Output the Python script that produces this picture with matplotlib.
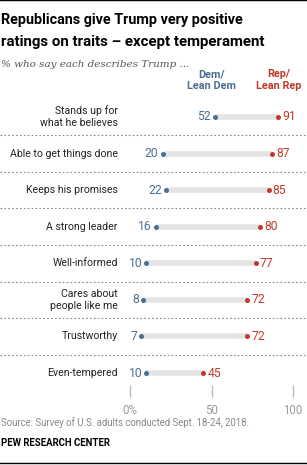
import matplotlib.pyplot as plt
import matplotlib.transforms as mtransforms

traits = ['Stands up for\nwhat he believes', 'Able to get things done', 'Keeps his promises',
          'A strong leader', 'Well-informed', 'Cares about\npeople like me', 'Trustworthy',
          'Even-tempered']
dem = [52, 20, 22, 16, 10, 8, 7, 10]
rep = [91, 87, 85, 80, 77, 72, 72, 45]
xticks = [0, 50, 100]
xticklabels = ['0%', '50', '100']

blue = '#4b6f91'
red = '#c0392b'
grey = '#e4e4e4'
W, H = 307, 465

plt.rcParams['font.family'] = ['Roboto', 'DejaVu Sans']
fig = plt.figure(figsize=(W / 100, H / 100), dpi=100)

# axes placed in pixel terms: x 0..100 -> px 130..293, rows every ~36.6px from y=117
step = (373 - 117) / 7
top = 117 - step / 2
bot = 373 + step / 2
ax = fig.add_axes([130 / W, 1 - bot / H, (293 - 130) / W, (bot - top) / H])
ax.set_xlim(0, 100)
ax.set_ylim(len(traits) - 0.5, -0.5)
for s in ax.spines.values():
    s.set_visible(False)
ax.set_yticks([])
ax.set_xticks(xticks)
ax.set_xticklabels(xticklabels, color='#9a9a9a', fontsize=8.3)
ax.tick_params(axis='x', direction='inout', length=8, width=1, color='#bbbbbb', pad=5)

for i, (d, r) in enumerate(zip(dem, rep)):
    ax.plot([d, r], [i, i], color=grey, lw=4, solid_capstyle='butt', zorder=1)
    ax.scatter([d], [i], s=13, color=blue, zorder=3, clip_on=False, linewidths=0)
    ax.scatter([r], [i], s=13, color=red, zorder=3, clip_on=False, linewidths=0)
    ax.text(d - 2.5, i, str(d), color=blue, fontsize=8.7, ha='right', va='center')
    ax.text(r + 2.5, i, str(r), color=red, fontsize=8.7, ha='left', va='center')
    ax.text(-7.5, i, traits[i], fontsize=7.6, ha='right', va='center', color='#222222',
            linespacing=1.25)

# dotted row separators across the full width
trans = mtransforms.blended_transform_factory(fig.transFigure, ax.transData)
for i in range(len(traits) - 1):
    ax.plot([0, 1], [i + 0.5, i + 0.5], transform=trans, color='#888888', lw=0.8,
            ls=(0, (1.5, 2)), clip_on=False)

# legend labels
ax.text(dem[0] - 2, -0.72, 'Dem/\nLean Dem', color=blue, fontsize=7.8, fontweight='bold',
        ha='center', va='bottom', linespacing=1.15)
ax.text(rep[0], -0.72, 'Rep/\nLean Rep', color=red, fontsize=7.8, fontweight='bold',
        ha='center', va='bottom', linespacing=1.15)

fig.text(1 / W, 1 - 20 / H, 'Republicans give Trump very positive', fontsize=10.4,
         fontweight='bold', va='center', ha='left')
fig.text(1 / W, 1 - 42 / H, 'ratings on traits \u2013 except temperament', fontsize=10.8,
         fontweight='bold', va='center', ha='left')
fig.text(1 / W, 1 - 64 / H, '% who say each describes Trump ...', fontsize=7.5,
         family='DejaVu Serif', style='italic', color='#555555', va='center', ha='left')
fig.text(1 / W, 1 - 423 / H, 'Source: Survey of U.S. adults conducted Sept. 18-24, 2018.',
         fontsize=6.9, color='#888888', va='center', ha='left')
fig.text(1 / W, 1 - 443 / H, 'PEW RESEARCH CENTER', fontsize=6.9, fontweight='bold',
         va='center', ha='left')

fig.add_artist(plt.Line2D([0, 1], [1 - 0.5 / H, 1 - 0.5 / H], color='black', lw=1))
fig.add_artist(plt.Line2D([0, 1], [1 - 463 / H, 1 - 463 / H], color='black', lw=1))

fig.savefig('out.png', dpi=100)
